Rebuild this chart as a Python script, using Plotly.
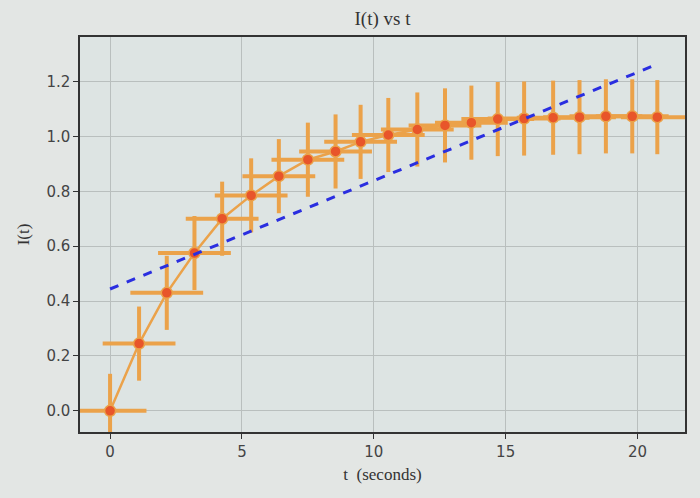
import plotly.graph_objects as go

t_vals = [0.0, 1.1, 2.15, 3.2, 4.25, 5.35, 6.4, 7.5, 8.55, 9.5, 10.55,
          11.65, 12.7, 13.7, 14.7, 15.7, 16.8, 17.8, 18.8, 19.8, 20.75]
i_vals = [0.0, 0.245, 0.43, 0.575, 0.70, 0.785, 0.855, 0.915, 0.945, 0.98, 1.005,
          1.025, 1.04, 1.05, 1.063, 1.065, 1.068, 1.07, 1.073, 1.073, 1.07]
t_err = [1.38] * 21
i_err = [0.135] * 21

fit_t = [0.0, 20.8]
fit_i = [0.444, 1.265]

x_ticks = [0, 5, 10, 15, 20]
y_ticks = [0.0, 0.2, 0.4, 0.6, 0.8, 1.0, 1.2]

orange = "#eba24a"
marker_red = "#e8552a"

fig = go.Figure()
fig.add_trace(go.Scatter(
    x=t_vals, y=i_vals, mode="lines+markers",
    line=dict(color=orange, width=2.5),
    marker=dict(symbol="circle", size=11, color=marker_red, line=dict(color=orange, width=1.5)),
    error_x=dict(type="data", array=t_err, color=orange, thickness=4, width=0),
    error_y=dict(type="data", array=i_err, color=orange, thickness=4, width=0),
    showlegend=False,
))
fig.add_trace(go.Scatter(
    x=fit_t, y=fit_i, mode="lines",
    line=dict(color="#2a2ee0", width=3, dash="dash"),
    showlegend=False,
))

fig.update_layout(
    width=700, height=498,
    margin=dict(l=80, r=15, t=37, b=66),
    paper_bgcolor="#e3e6e4",
    plot_bgcolor="#dde4e3",
    title=dict(text="I(t) vs t", x=(80 + 685) / 2 / 700, xanchor="center",
               y=1 - 18 / 498, yanchor="middle",
               font=dict(family="Liberation Serif", size=19, color="#333333")),
    font=dict(family="DejaVu Sans", size=15, color="#444444"),
)
fig.update_xaxes(
    range=[-1.14, 21.8], tickvals=x_ticks, ticktext=[str(v) for v in x_ticks],
    showgrid=True, gridcolor="#b9bfbe", gridwidth=1, zeroline=False,
    showline=True, linecolor="#333333", linewidth=1.5, mirror=True,
    ticks="outside", ticklen=5, tickcolor="#333333",
    title=dict(text="t  (seconds)", standoff=8,
               font=dict(family="Liberation Serif", size=17, color="#333333")),
)
fig.update_yaxes(
    range=[-0.077, 1.362], tickvals=y_ticks, ticktext=[f"{v:.1f}" for v in y_ticks],
    showgrid=True, gridcolor="#b9bfbe", gridwidth=1, zeroline=False,
    showline=True, linecolor="#333333", linewidth=1.5, mirror=True,
    ticks="outside", ticklen=5, tickcolor="#333333",
    title=dict(text="I(t)", standoff=12,
               font=dict(family="Liberation Serif", size=17, color="#333333")),
)

fig.write_html("out.html")
